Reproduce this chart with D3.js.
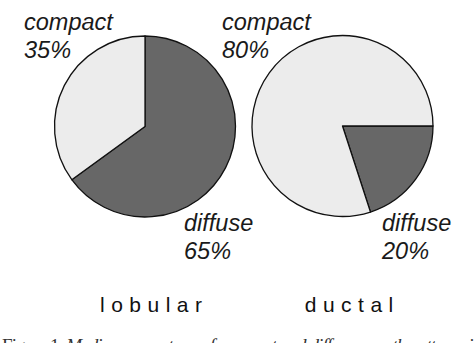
<!DOCTYPE html>
<html>
<head>
<meta charset="utf-8">
<script src="https://cdn.jsdelivr.net/npm/d3@7"></script>
<style>
  body { margin: 0; background: #fff; }
  svg { display: block; }
</style>
</head>
<body>
<script>
// tumour types and their growth pattern shares (%)
const groups = ["lobular", "ductal"];
const patterns = ["diffuse", "compact"];
const lobularValues = [65, 35];
const ductalValues = [20, 80];
const startAngles = [0, 90]; // degrees, clockwise from 12 o'clock

const width = 474, height = 343;
const radius = 90.5;
const centers = [[145, 126.5], [342.5, 126]];
const groupCenters = [151, 349];
const spacing = 6.5;

const svg = d3.select("body").append("svg")
    .attr("width", width)
    .attr("height", height);

const color = d3.scaleOrdinal()
    .domain(patterns)
    .range(["#676767", "#ececec"]);

const arc = d3.arc().innerRadius(0).outerRadius(radius);

[lobularValues, ductalValues].forEach((values, i) => {
    const start = startAngles[i] * Math.PI / 180;
    const pie = d3.pie().sort(null)
        .startAngle(start)
        .endAngle(start + 2 * Math.PI);
    const data = pie(values).map((d, j) => Object.assign(d, {pattern: patterns[j]}));

    const g = svg.append("g")
        .attr("transform", "translate(" + centers[i][0] + "," + centers[i][1] + ")");

    g.selectAll("path")
        .data(data)
        .enter()
        .append("path")
        .attr("d", arc)
        .attr("fill", d => color(d.pattern))
        .attr("stroke", "#111")
        .attr("stroke-width", 1.3)
        .attr("stroke-linejoin", "round");

    svg.append("text")
        .text(groups[i])
        .attr("x", groupCenters[i] + spacing / 2)
        .attr("y", 312)
        .attr("text-anchor", "middle")
        .attr("font-family", "Liberation Sans, Arial, sans-serif")
        .attr("font-size", 21)
        .attr("letter-spacing", spacing)
        .attr("fill", "#111");
});

// slice labels, placed around each pie
const labelPos = [
    {x: 24, y: 30, text: "compact", value: lobularValues[1]},
    {x: 184, y: 231, text: "diffuse", value: lobularValues[0]},
    {x: 222, y: 30, text: "compact", value: ductalValues[1]},
    {x: 382, y: 231, text: "diffuse", value: ductalValues[0]}
];

const labels = svg.selectAll("text.slice-label")
    .data(labelPos)
    .enter()
    .append("text")
    .attr("class", "slice-label")
    .attr("font-family", "Liberation Sans, Arial, sans-serif")
    .attr("font-style", "italic")
    .attr("font-size", 23.5)
    .attr("fill", "#1a1a1a");

labels.append("tspan")
    .attr("x", d => d.x)
    .attr("y", d => d.y)
    .text(d => d.text);

labels.append("tspan")
    .attr("x", d => d.x)
    .attr("y", d => d.y + 28)
    .text(d => d.value + "%");

// figure caption, cut off by the bottom edge as in the scan
const caption = svg.append("text")
    .attr("x", 2)
    .attr("y", 352)
    .attr("font-family", "Liberation Serif, Times New Roman, serif")
    .attr("font-size", 19)
    .attr("fill", "#333")
    .attr("textLength", 480)
    .attr("lengthAdjust", "spacing");
caption.append("tspan").text("Figure 1. ");
caption.append("tspan").attr("font-style", "italic")
    .text("Median percentage of compact and diffuse growth patterns in");
</script>
</body>
</html>
